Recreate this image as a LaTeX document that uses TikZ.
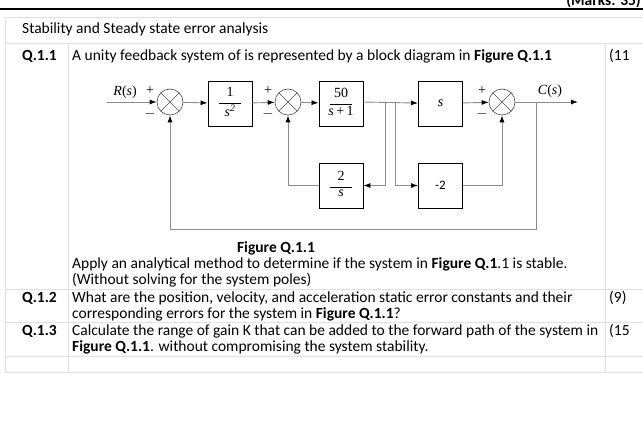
\documentclass[tikz,border=0pt]{standalone}
\usepackage{fontspec}
\setmainfont{Carlito}
\newfontfamily\tms{Liberation Serif}
\usetikzlibrary{arrows.meta}
\newcommand{\myfrac}[2]{{\renewcommand{\arraystretch}{0.75}\begin{tabular}{@{}c@{}}#1\\[-4pt]\rule{22pt}{0.6pt}\\[-2pt]#2\end{tabular}}}
\begin{document}
\begin{tikzpicture}[x=1pt,y=-1pt,
  blk/.style={draw=black,line width=0.9pt,minimum width=44pt,minimum height=45pt,inner sep=0pt,font=\tms\fontsize{14}{15}\selectfont},
  sumn/.style={draw=black!70,circle,minimum size=26pt,inner sep=0pt,line width=0.6pt,
     path picture={\draw[black!70,line width=0.6pt] (path picture bounding box.north west)--(path picture bounding box.south east) (path picture bounding box.north east)--(path picture bounding box.south west);}},
  ln/.style={draw=black!45,line width=0.9pt},
  arr/.style={ln,-{Latex[length=7pt,width=5pt,color=black]}},
  tx/.style={font=\fontsize{15.5}{16}\selectfont,anchor=west,inner sep=0pt},
  bx/.style={font=\bfseries\fontsize{15.5}{16}\selectfont,anchor=west,inner sep=0pt},
  sg/.style={font=\tms\fontsize{14}{15}\selectfont,inner sep=0pt},
  rule/.style={draw=black!12,line width=0.6pt}]
\useasboundingbox (0,0) rectangle (643,427);
\fill[white] (0,0) rectangle (643,427);
% table
\draw[black,line width=1.4pt] (0,9) -- (643,9);
\node[bx,anchor=east] (marks) at (641,1) {(Marks: 35)};
\draw[rule] (5,17) -- (643,17);
\draw[rule] (5,43) -- (643,43);
\draw[rule] (5,289) -- (643,289);
\draw[rule] (5,322) -- (643,322);
\draw[rule] (5,356) -- (643,356);
\draw[rule] (5,372) -- (643,372);
\draw[rule] (5,17) -- (5,372);
\draw[rule] (68,43) -- (68,372);
\draw[rule] (605,43) -- (605,372);
\node[tx] (title) at (22,29) {Stability and Steady state error analysis};
\node[bx] (q1) at (22,56) {Q.1.1};
\node[tx] (t1) at (72,56) {A unity feedback system of is represented by a block diagram in \textbf{Figure Q.1.1}};
\node[tx] (m1) at (609,56) {(11};
\node[bx,anchor=center] (cap) at (276,248) {Figure Q.1.1};
\node[tx] (t2) at (72,264) {Apply an analytical method to determine if the system in \textbf{Figure Q.1}.1 is stable.};
\node[tx] (t3) at (72,280) {(Without solving for the system poles)};
\node[bx] (q2) at (22,298) {Q.1.2};
\node[tx] (t4) at (72,298) {What are the position, velocity, and acceleration static error constants and their};
\node[tx] (t5) at (72,314) {corresponding errors for the system in \textbf{Figure Q.1.1}?};
\node[tx] (m2) at (609,298) {(9)};
\node[bx] (q3) at (22,331) {Q.1.3};
\node[tx] (t6) at (72,331) {Calculate the range of gain K that can be added to the forward path of the system in};
\node[tx] (t7) at (72,347) {\textbf{Figure Q.1.1}. without compromising the system stability.};
\node[tx] (m3) at (609,331) {(15};
% diagram
\coordinate (in) at (107,102);
\node[sumn] (s1) at (170,102) {};
\node[blk] (b1) at (230,103.5) {\myfrac{1}{\itshape s\textsuperscript{2}}};
\node[sumn] (s2) at (288,102) {};
\node[blk] (b2) at (341,103.5) {\myfrac{50}{\itshape s\upshape\,+\,1}};
\node[blk] (b3) at (440.5,103.5) {\itshape s};
\node[blk] (b4) at (341,185.5) {\myfrac{2}{\itshape s}};
\node[blk,font=\fontsize{13}{14}\selectfont] (b5) at (440.5,185.5) {-2};
\node[sumn] (s3) at (502,102) {};
\coordinate (out) at (578,102);
\coordinate (tap) at (536,102);
\coordinate (j1) at (385,102);
\coordinate (j2) at (395,102);
\node[sg,anchor=south east] (rl) at (137,99) {\itshape R\upshape(\itshape s\upshape)};
\node[sg,anchor=south] (cl) at (550,98) {\itshape C\upshape(\itshape s\upshape)};
\node[sg] (p1) at (150,91) {+};
\node[sg] (n1) at (150,114) {$-$};
\node[sg] (p2) at (268,91) {+};
\node[sg] (n2) at (268,114) {$-$};
\node[sg] (p3) at (482,91) {+};
\node[sg] (n3) at (482,114) {$-$};
\draw[arr] (in) -- (s1);
\draw[arr] (s1) -- (b1);
\draw[arr] (b1) -- (s2);
\draw[arr] (s2) -- (b2);
\draw[arr] (b2.east |- j1) -- (b3);
\draw[arr] (j1) |- (b4);
\draw[arr] (j2) |- (b5);
\draw[arr] (b4) -| (s2);
\draw[arr] (b3) -- (s3);
\draw[arr] (b5) -| (s3);
\draw[arr] (s3) -- (out);
\draw[arr] (tap) |- (170,229) -- (s1);
\end{tikzpicture}
\end{document}
